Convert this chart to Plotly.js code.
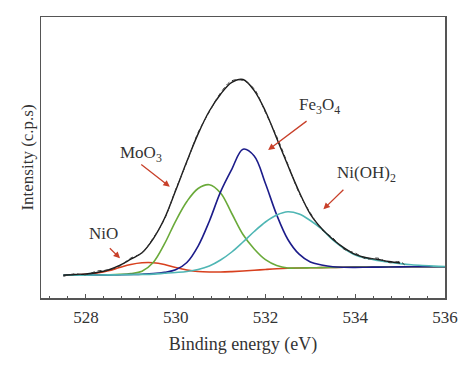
<!DOCTYPE html>
<html>
<head>
<meta charset="utf-8">
<script src="https://cdn.plot.ly/plotly-3.0.1.min.js"></script>
<style>html,body{margin:0;padding:0;background:#fff;}#chart{width:474px;height:368px;}</style>
</head>
<body>
<div id="chart"></div>
<script>
// Binding energy grid (eV)
const energy = [527.5,527.75,528,528.25,528.5,528.75,529,529.25,529.5,529.75,530,530.25,530.5,530.75,531,531.25,531.5,531.75,532,532.25,532.5,532.75,533,533.25,533.5,533.75,534,534.25,534.5,534.75,535,535.25,535.5,535.75,536];
const energyData = [527.5,527.75,528,528.25,528.5,528.75,529,529.25,529.5,529.75,530,530.25,530.5,530.75,531,531.25,531.5,531.75,532,532.25,532.5,532.75,533,533.25,533.5,533.75,534,534.25,534.5,534.75,535,535.1];
// Measured spectrum (dashed, noisy)
const rawData = [7.7,8.6,8.3,9.6,10.0,11.3,14.2,16.0,21.4,28.0,38.6,48.3,58.9,66.2,73.0,77.3,77.4,74.4,66.0,57.5,47.6,37.4,30.3,24.4,21.4,17.4,16.0,13.9,14.2,12.6,12.9,11.8];
// Fitted envelope
const envelope = [8.08,8.36,8.54,9.07,9.96,11.57,13.81,16.12,21.07,28.29,38.26,48.65,58.40,66.55,72.53,76.73,77.76,73.81,66.48,56.87,47.12,37.83,29.89,24.77,20.93,17.86,15.52,14.31,13.70,12.99,12.46];
// Components (including background)
const nio = [8.08,8.19,8.43,8.90,9.68,10.85,11.92,12.53,12.56,11.92,10.85,9.96,9.43,9.25,9.25,9.40,9.61,9.86,10.14,10.39,10.57,10.68,10.75,10.82,10.89,10.96,11.00,11.03,11.07,11.10,11.10,11.14,11.14,11.14,11.14];
const moo3 = [8.08,8.11,8.15,8.19,8.26,8.40,8.72,9.54,12.63,19.22,27.40,34.34,38.97,40.32,37.37,30.07,22.60,17.44,13.63,11.57,10.70,10.70,10.75,10.82,10.89,10.96,11.00,11.03,11.07,11.10,11.10,11.14,11.14,11.14,11.14];
const fe3o4 = [8.08,8.11,8.15,8.19,8.22,8.29,8.36,8.47,8.68,9.15,10.04,12.63,18.47,27.33,37.76,45.80,52.95,50.53,40.75,29.61,20.82,15.59,12.81,11.74,11.10,10.93,10.90,10.95,11.00,11.05,11.08,11.10,11.12,11.12,11.14];
const nioh2 = [8.08,8.11,8.15,8.19,8.22,8.26,8.33,8.40,8.51,8.79,9.07,9.43,10.14,11.39,13.52,16.37,19.93,23.67,27.05,29.54,30.71,29.89,27.58,24.56,20.64,17.62,15.30,14.13,13.35,12.70,12.24,11.85,11.57,11.35,11.21];

const labels = ['NiO','MoO<sub>3</sub>','Fe<sub>3</sub>O<sub>4</sub>','Ni(OH)<sub>2</sub>'];

const F = 'Liberation Serif, Times New Roman, serif';
function comp(y, color){
  return {x: energy, y: y, mode:'lines', type:'scatter', line:{color:color, width:1.6, shape:'spline', smoothing:1}, hoverinfo:'skip', showlegend:false};
}
const traces = [
  comp(nio, '#d8401e'),
  comp(moo3, '#6aaa3a'),
  comp(fe3o4, '#1c1c8a'),
  comp(nioh2, '#4fb6b4'),
  {x: energyData.slice(0, envelope.length), y: envelope, mode:'lines', type:'scatter', line:{color:'#1a1a1a', width:1.4, shape:'spline', smoothing:1}, showlegend:false},
  {x: energyData, y: rawData, mode:'lines', type:'scatter', line:{color:'#333', width:1, dash:'4px,3px', shape:'spline', smoothing:1}, showlegend:false}
];

const arrowColor = '#c8402a';
function arrow(x, y, ax, ay){
  return {x:x, y:y, ax:ax, ay:ay, xref:'x', yref:'y', axref:'x', ayref:'y', text:'', showarrow:true, arrowhead:2, arrowsize:1, arrowwidth:1.3, arrowcolor:arrowColor};
}
function label(t, x, y){
  return {x:x, y:y, xref:'x', yref:'y', text:t, showarrow:false, font:{family:F, size:17, color:'#333'}, xanchor:'center', yanchor:'middle'};
}

const layout = {
  width:474, height:368,
  margin:{l:41, r:29, t:17, b:70},
  paper_bgcolor:'#fff', plot_bgcolor:'#fff',
  font:{family:F, size:17, color:'#333'},
  xaxis:{
    range:[527,536], dtick:2, tick0:528, ticks:'inside', ticklen:4, tickwidth:1, tickcolor:'#555',
    minor:{ticks:'inside', ticklen:2.5, dtick:0.4, tick0:528, tickcolor:'#555', tickwidth:1},
    showgrid:false, zeroline:false, showline:true, linecolor:'#555', linewidth:1.5, mirror:true,
    tickfont:{family:F, size:17, color:'#333'}, ticklabelstandoff:3,
    title:{text:'Binding energy (eV)', font:{family:F, size:18, color:'#333'}, standoff:11}
  },
  yaxis:{
    range:[0,100], showticklabels:false, ticks:'', showgrid:false, zeroline:false,
    showline:true, linecolor:'#555', linewidth:1.5, mirror:true,
    title:{text:'Intensity (c.p.s)', font:{family:F, size:17, color:'#333'}, standoff:1}
  },
  annotations:[
    label(labels[0], 528.40, 22.8),
    label(labels[1], 529.22, 51.3),
    label(labels[2], 528 + (320-86)/44.9, (298-106)/2.81),
    label(labels[3], 528 + (366.7-86)/44.9, (298-174)/2.81),
    arrow(528.76, 14.13, 528.50, 18.26),
    arrow(529.87, 39.61, 529.20, 47.94),
    arrow(532.06, 52.67, 532.95, 63.35),
    arrow(533.29, 31.57, 533.77, 39.04)
  ]
};

Plotly.newPlot('chart', traces, layout, {staticPlot:true, displayModeBar:false});
</script>
</body>
</html>
